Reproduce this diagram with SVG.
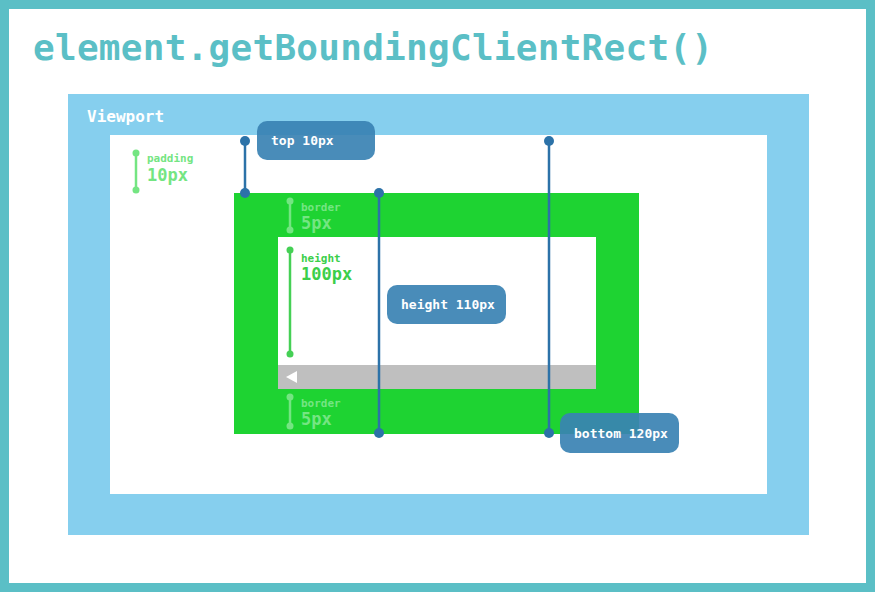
<svg xmlns="http://www.w3.org/2000/svg" width="875" height="592" viewBox="0 0 875 592">
<style>
text{font-family:"DejaVu Sans Mono","Liberation Mono",monospace;font-weight:bold}
.dot{fill:#2c72a8}
.bl{stroke:#2c72a8;stroke-width:2.5}
.lab{fill:#3a82b3;fill-opacity:0.92}
.lt{fill:#fff;font-size:13px}
.gm{stroke:#74e582;stroke-width:2.5}
.gd{fill:#74e582}
</style>
<rect x="4.5" y="4.5" width="866" height="583" fill="#fff" stroke="#5bbfc6" stroke-width="9"/>
<text x="33" y="60" font-size="36" fill="#5bbfc6" textLength="680" lengthAdjust="spacing">element.getBoundingClientRect()</text>
<g id="viewport">
<rect x="68" y="94" width="741" height="441" fill="#86cfee"/>
<rect x="110" y="135" width="657" height="359" fill="#fff"/>
<text x="87" y="122" font-size="16" fill="#fff">Viewport</text>
</g>
<g id="padding">
<line class="gm" x1="136" y1="153" x2="136" y2="190"/>
<circle class="gd" cx="136" cy="153" r="3.5"/><circle class="gd" cx="136" cy="190" r="3.5"/>
<text x="147" y="162" font-size="11" fill="#74e582">padding</text>
<text x="147" y="181" font-size="17" fill="#74e582">10px</text>
</g>
<g id="element">
<rect x="234" y="193" width="405" height="241" fill="#1ed332"/>
<rect x="278" y="237" width="318" height="128" fill="#fff"/>
<rect x="278" y="365" width="318" height="24" fill="#bfbfbf"/>
<polygon points="286,377 297,371 297,383" fill="#fff"/>
<line class="gm" x1="290" y1="201" x2="290" y2="230"/>
<circle class="gd" cx="290" cy="201" r="3.5"/><circle class="gd" cx="290" cy="230" r="3.5"/>
<text x="301" y="211" font-size="11" fill="#74e582">border</text>
<text x="301" y="229" font-size="17" fill="#74e582">5px</text>
<line x1="290" y1="250" x2="290" y2="354" stroke="#45d055" stroke-width="2.5"/>
<circle cx="290" cy="250" r="3.5" fill="#45d055"/><circle cx="290" cy="354" r="3.5" fill="#45d055"/>
<text x="301" y="262" font-size="11" fill="#3ccf4a">height</text>
<text x="301" y="280" font-size="17" fill="#3ccf4a">100px</text>
<line class="gm" x1="290" y1="397" x2="290" y2="426"/>
<circle class="gd" cx="290" cy="397" r="3.5"/><circle class="gd" cx="290" cy="426" r="3.5"/>
<text x="301" y="407" font-size="11" fill="#74e582">border</text>
<text x="301" y="425" font-size="17" fill="#74e582">5px</text>
</g>
<g id="connectors">
<line class="bl" x1="245" y1="141" x2="245" y2="193"/>
<circle class="dot" cx="245" cy="141" r="5"/><circle class="dot" cx="245" cy="193" r="5"/>
<line class="bl" x1="379" y1="193" x2="379" y2="433"/>
<circle class="dot" cx="379" cy="193" r="5"/><circle class="dot" cx="379" cy="433" r="5"/>
<line class="bl" x1="549" y1="141" x2="549" y2="433"/>
<circle class="dot" cx="549" cy="141" r="5"/><circle class="dot" cx="549" cy="433" r="5"/>
</g>
<g id="top"><rect class="lab" x="257" y="121" width="118" height="39" rx="10"/><text class="lt" x="271" y="145">top 10px</text></g>
<g id="height"><rect class="lab" x="387" y="285" width="119" height="39" rx="10"/><text class="lt" x="401" y="309">height 110px</text></g>
<g id="bottom"><rect class="lab" x="560" y="413" width="119" height="40" rx="10"/><text class="lt" x="574" y="438">bottom 120px</text></g>
</svg>
